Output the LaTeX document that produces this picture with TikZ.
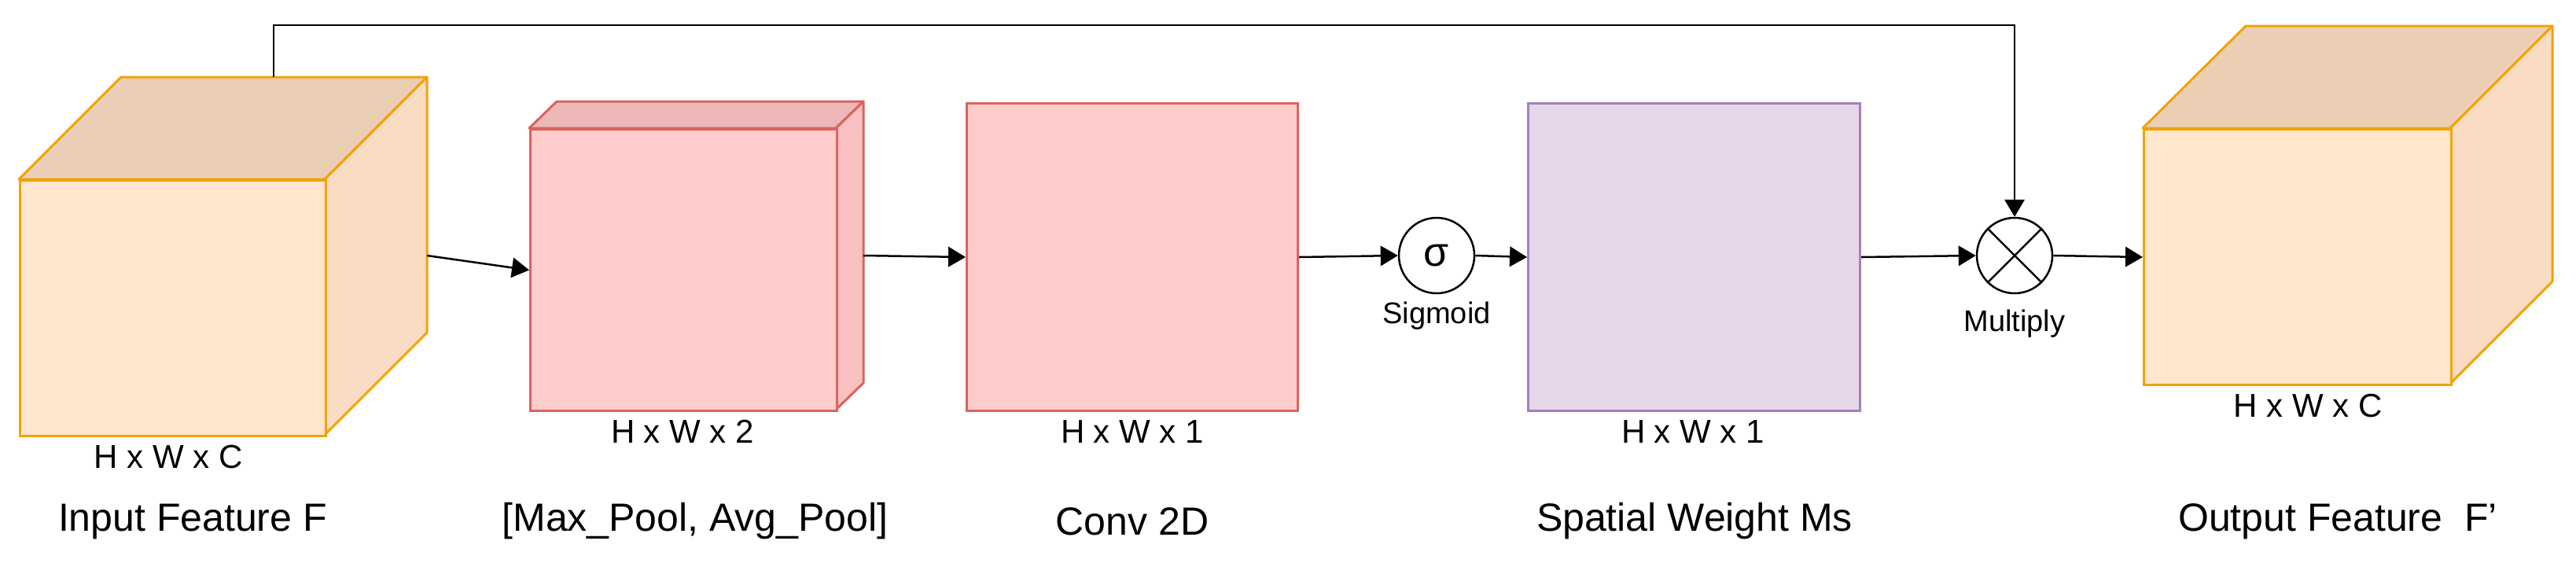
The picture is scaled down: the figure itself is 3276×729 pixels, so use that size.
\documentclass[tikz,border=0pt]{standalone}
\usepackage{fontspec}
\setmainfont{Liberation Sans}
\usetikzlibrary{arrows.meta}
\definecolor{ostroke}{HTML}{F0A30A}
\definecolor{ofill}{HTML}{FFE6CC}
\definecolor{otop}{HTML}{EBCFB4}
\definecolor{oside}{HTML}{F9DCC2}
\definecolor{rstroke}{HTML}{D9645F}
\definecolor{rfill}{HTML}{FFCCCC}
\definecolor{rtop}{HTML}{EDB8B7}
\definecolor{rside}{HTML}{F8C0C0}
\definecolor{pstroke}{HTML}{A680B8}
\definecolor{pfill}{HTML}{E6D6E9}
\begin{document}
\begin{tikzpicture}[x=1pt,y=-1pt,
  conn/.style={line width=2.5pt,-{Triangle[length=22pt,width=18pt,angle'=60]}},
  small/.style={font=\fontsize{42}{48}\selectfont},
  big/.style={font=\fontsize{50}{58}\selectfont},
  op/.style={circle,draw,line width=2.5pt,minimum size=96pt,inner sep=0pt}]
\useasboundingbox (0,0) rectangle (3276,729);
% input cube
\filldraw[ostroke,line width=3pt,fill=otop,line join=round] (24,228)--(154,98)--(543,98)--(413,228)--cycle;
\filldraw[ostroke,line width=3pt,fill=oside,line join=round] (413,228)--(543,98)--(543,423)--(413,553)--cycle;
\node[draw=ostroke,fill=ofill,line width=3pt,minimum width=389pt,minimum height=325pt,inner sep=0pt,anchor=north west] (in) at (24,228) {};
\coordinate (inr) at (543,325);
\coordinate (intop) at (348,98);
% pooling box
\filldraw[rstroke,line width=3pt,fill=rtop,line join=round] (673,163)--(708,129)--(1098,129)--(1063,163)--cycle;
\filldraw[rstroke,line width=3pt,fill=rside,line join=round] (1063,163)--(1098,129)--(1098,487)--(1063,521)--cycle;
\node[draw=rstroke,fill=rfill,line width=3pt,minimum width=390pt,minimum height=358pt,inner sep=0pt,anchor=north west] (pool) at (673,163) {};
\coordinate (poolr) at (1098,325);
% conv box
\node[draw=rstroke,fill=rfill,line width=3pt,minimum width=421pt,minimum height=391pt,inner sep=0pt,anchor=north west] (conv) at (1228,130) {};
% sigmoid
\node[op] (sig) at (1827,325) {\fontsize{52}{60}\selectfont σ};
% spatial weight
\node[draw=pstroke,fill=pfill,line width=3pt,minimum width=422pt,minimum height=391pt,inner sep=0pt,anchor=north west] (sw) at (1942,130) {};
% multiply
\node[op] (mul) at (2562,325) {};
\draw[line width=2.5pt] (mul.north east)--(mul.south west) (mul.north west)--(mul.south east);
% output cube
\filldraw[ostroke,line width=3pt,fill=otop,line join=round] (2725,163)--(2856,33)--(3246,33)--(3116,163)--cycle;
\filldraw[ostroke,line width=3pt,fill=oside,line join=round] (3116,163)--(3246,33)--(3246,358)--(3116,488)--cycle;
\node[draw=ostroke,fill=ofill,line width=3pt,minimum width=391pt,minimum height=325pt,inner sep=0pt,anchor=north west] (out) at (2725,163) {};
% connectors
\draw[conn] (inr)--(pool.west);
\draw[conn] (poolr)--(conv.west);
\draw[conn] (conv.east)--(sig.west);
\draw[conn] (sig.east)--(sw.west);
\draw[conn] (sw.east)--(mul.west);
\draw[conn] (mul.east)--(out.west);
\draw[conn] (intop)--(348,32)--(2562,32)--(mul.north);
% labels
\node[small] at (214,581) {H x W x C};
\node[small] at (868,549) {H x W x 2};
\node[small] at (1440,549) {H x W x 1};
\node[small] at (2153,549) {H x W x 1};
\node[small] at (2935,516) {H x W x C};
\node[font=\fontsize{38}{44}\selectfont] at (1827,402) {Sigmoid};
\node[font=\fontsize{38}{44}\selectfont] at (2562,412) {Multiply};
\node[big] at (245,663) {Input Feature F};
\node[big] at (884,663) {[Max\_Pool, Avg\_Pool]};
\node[big] at (1440,663) {Conv 2D};
\node[big] at (2155,663) {Spatial Weight Ms};
\node[big] at (2973,663) {Output Feature\ \ F'};
\end{tikzpicture}
\end{document}
